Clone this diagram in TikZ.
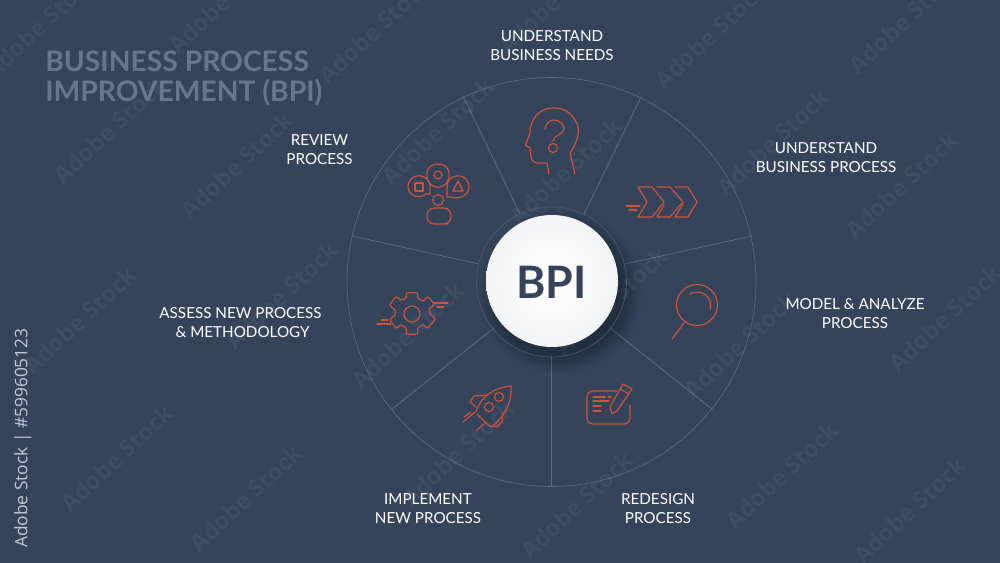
\documentclass[tikz,border=0pt]{standalone}
\usepackage{fontspec}
\setmainfont{Lato}
\newfontfamily\wmfont{Open Sans}
\definecolor{bgc}{HTML}{35445B}
\definecolor{iconc}{HTML}{D0533A}
\definecolor{linec}{HTML}{5E6B80}
\definecolor{ringc}{HTML}{4A586F}
\definecolor{titlec}{HTML}{687689}
\definecolor{idc}{HTML}{C2C8D2}
\tikzset{
  icon/.style={draw=iconc,line width=0.85pt,line cap=round,line join=round,fill=none},
  spoke/.style={draw=linec,line width=0.55pt},
  rim/.style={draw=linec,line width=0.45pt},
  lab/.style={text=white,font=\fontsize{11.4}{14.2}\selectfont,align=center,inner sep=0pt},
  ttl/.style={text=titlec,font=\fontsize{21.2}{22.2}\selectfont\bfseries,align=left,inner sep=0pt,anchor=north west},
  wm/.style={text=white,opacity=0.05,rotate=43,inner sep=0pt,font=\fontsize{17.5}{20}\selectfont\wmfont\bfseries},
  idtext/.style={text=idc,rotate=90,inner sep=0pt,anchor=west,font=\fontsize{13}{15}\selectfont\wmfont},
}
\begin{document}
\begin{tikzpicture}[x=0.75pt,y=-0.75pt]
\useasboundingbox (0,0) rectangle (1000,563);
\fill[bgc] (0,0) rectangle (1000,563);
% wheel
\coordinate (c) at (551.5,282);
\coordinate (d) at (552,281);
\draw[rim] (c) circle (204.5);
\foreach \ax/\ay/\bx/\by in {520/214/463/96, 584/214/641/97, 625/264/752/236, 610/328/712/409, 551/356/551/487, 494/328/392/409, 479/264/352/236}
  \draw[spoke] (\ax,\ay) -- (\bx,\by);
% shadow of the disc
\foreach \r in {82,80,...,62}
  \fill[black,opacity=0.026] (560,292) circle (\r);
\draw[draw=ringc,line width=0.5pt] (c) circle (75);
\shade[inner color=white,outer color=white!94!bgc] (d) circle (66);
\node[text=bgc,font=\fontsize{33.5}{35}\selectfont\bfseries,inner sep=0pt] (bpi) at (551.5,282) {BPI};
% stock marks printed across the picture
\foreach \wx/\wy [count=\wi] in {41/25,110/130,237/165,375/30,711/35,905/20,282/295,408/335,80/320,117/458,246/498,577/505,782/475,910/510,740/345,945/318,902/185,773/142,438/131,566/171,611/301,458/453,225/0,555/0}
  \node[wm] (wm\wi) at (\wx,\wy) {Adobe Stock};
\node[idtext] (stockid) at (23,548) {Adobe Stock | \#599605123};
% title
\node[ttl] (title) at (45,51) {BUSINESS PROCESS\\IMPROVEMENT (BPI)};
% labels
\node[lab] (l1) at (552,45.5) {UNDERSTAND\\BUSINESS NEEDS};
\node[lab] (l2) at (826,157.5) {UNDERSTAND\\BUSINESS PROCESS};
\node[lab] (l3) at (855,313.5) {MODEL \& ANALYZE\\PROCESS};
\node[lab] (l4) at (658,509) {REDESIGN\\PROCESS};
\node[lab] (l5) at (428,509) {IMPLEMENT\\NEW PROCESS};
\node[lab] (l6) at (240.5,322.5) {ASSESS NEW PROCESS\\\hspace*{3pt}\& METHODOLOGY};
\node[lab] (l7) at (319.5,149.5) {REVIEW\\PROCESS};
% icon: head with question mark
\draw[icon] (575,174) -- (570,153) .. controls (578,142) and (580,130) .. (577,124)
  .. controls (572,112) and (563,108) .. (554,108) .. controls (538,108) and (530,120) .. (530,133)
  -- (525.5,145) -- (530,148) -- (531,157) .. controls (532,162) and (536,164) .. (540,163) -- (547,163) -- (549,174);
\draw[icon] (545,129) .. controls (546,123) and (550,120) .. (554,120) .. controls (560,120) and (564,125) .. (564,129)
  .. controls (564,135) and (553,135) .. (553,141);
\draw[icon] (553,148) circle (4.5);
% icon: people and shapes
\draw[icon] (438,200) circle (5.5);
\draw[icon,rounded corners=5.5] (444,224) -- (427,224) -- (427,208) -- (451,208) -- (451,224) -- (448,224);
\draw[icon] (433,186) .. controls (424,181) and (424,164) .. (438,164) .. controls (452,164) and (452,181) .. (443,186) -- (438,187.5) -- cycle;
\draw[icon] (438,175) circle (4);
\draw[icon] (430,194) -- (426,194) .. controls (419,200) and (408,195) .. (408,187) .. controls (408,172) and (430,172) .. (430,187) -- cycle;
\draw[icon] (415,183) rectangle (423,191);
\draw[icon] (447,197) -- (451,197) .. controls (461,200) and (469,194) .. (469,187) .. controls (469,172) and (447,172) .. (447,187) -- cycle;
\draw[icon] (458,181) -- (463,191) -- (453,191) -- cycle;
% icon: chevrons
\draw[icon] (638,187) -- (652,187) -- (664,202) -- (652,217) -- (638,217) -- (647,202) -- cycle;
\draw[icon] (657,187) -- (670,187) -- (683,202) -- (670,217) -- (657,217) -- (664,205);
\draw[icon] (675,187) -- (688,187) -- (697,202) -- (688,217) -- (675,217) -- (683,204);
\draw[icon] (626,206) -- (640,206) (629,210) -- (637,210);
% icon: magnifier
\draw[icon] (697,305) circle (20.5);
\draw[icon] (690,294) arc[start angle=-122,end angle=17,radius=13.5];
\draw[icon] (684,323) -- (672,339);
% icon: note and pencil
\draw[icon,rounded corners=4] (617,391) -- (587,391) -- (587,424) -- (630,424) -- (630,405);
\draw[icon] (593,397) -- (605,397) (608,397) -- (611,397) (593,401) -- (609,401) (593,406) -- (601,406) (593,411) -- (601,411);
\draw[icon] (623,384) -- (632,389) -- (617,411) -- (612,414) -- (610,407) -- cycle;
\draw[icon] (620,389) -- (629,394);
% icon: gear
\draw[icon] (412,314) circle (8);
\draw[icon] plot[smooth cycle,tension=0.25] coordinates {
 (407,293) (417,293) (418,298) (423,301) (428,297) (434,304) (429,309) (430,314)
 (435,319) (428,328) (423,325) (418,328) (417,334) (407,334) (406,328) (401,325)
 (396,328) (390,320) (395,315) (395,310) (390,305) (396,297) (401,300) (406,298)};
\draw[icon] (433,303) -- (448,303) (437,307) -- (444,307) (377,324) -- (391,324) (381,320) -- (388,320);
% icon: rocket
\draw[icon] (476,412) .. controls (480,398) and (492,388) .. (511,386) .. controls (512,402) and (506,414) .. (493,426) .. controls (491,428) and (489,426) .. (487,424) -- (477,414);
\draw[icon] (499,397) circle (4.5);
\draw[icon] (489,407) circle (4.5);
\draw[icon] (487,395) -- (474,396) -- (470,402) -- (476,407);
\draw[icon] (503,413) -- (502,422) -- (497,427) -- (493,426);
\draw[icon] (463,422) -- (475,412) (464,417) -- (471,412) (477,430) -- (484,424);
\end{tikzpicture}
\end{document}
